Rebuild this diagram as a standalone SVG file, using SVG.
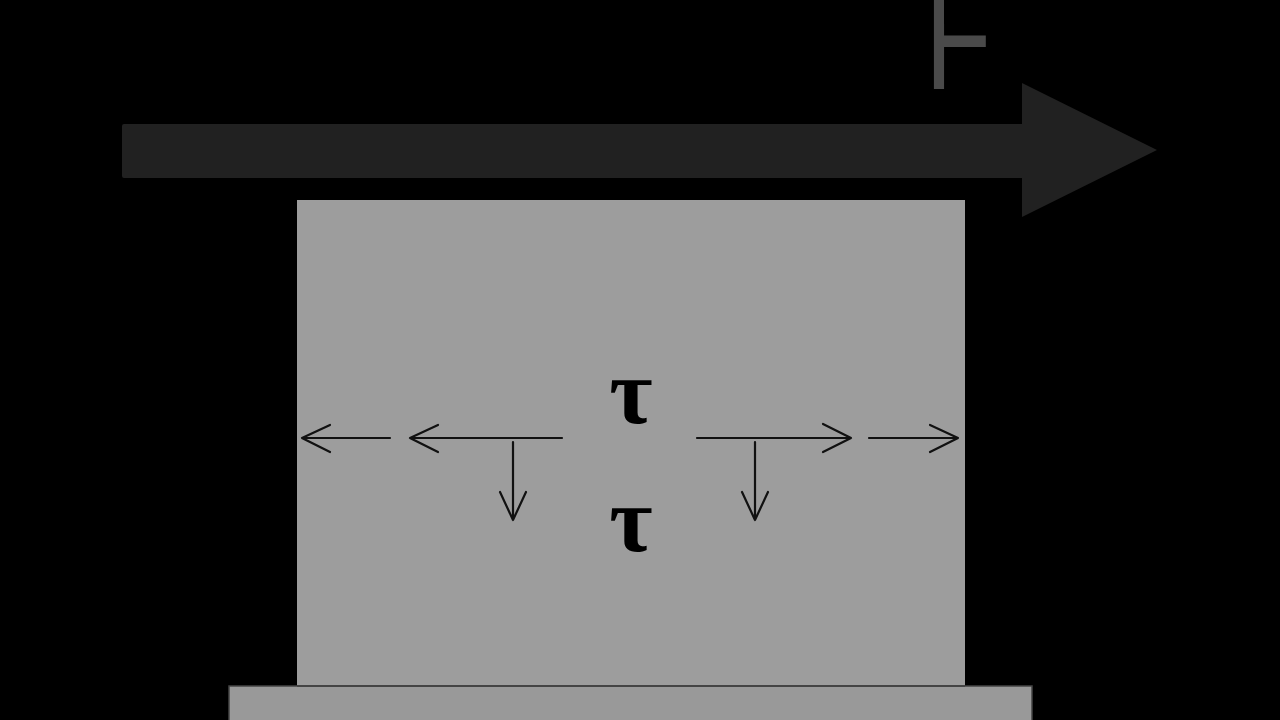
<svg xmlns="http://www.w3.org/2000/svg" width="1280" height="720" viewBox="0 0 1280 720">
<defs>
<style>
.ln{stroke:#111;stroke-width:2.2;fill:none;stroke-linecap:round;stroke-linejoin:round}
.tau{font-family:"Liberation Serif",serif;font-weight:bold;font-size:94px;fill:#000;text-anchor:middle}
</style>
<clipPath id="fclip">
<path d="M900,-10 H944 V24 H1010 V100 H900 Z"/>
</clipPath>
</defs>
<rect x="0" y="0" width="1280" height="720" fill="#000"/>
<g id="force-label" clip-path="url(#fclip)">
<text transform="translate(925,89) scale(0.85,1.18)" font-family="Liberation Sans, sans-serif" font-size="128" fill="#4a4a4a">F</text>
</g>
<g id="force-arrow">
<path d="M124,124 H1022 V83 L1157,150 L1022,217 V178 H124 Q122,178 122,176 V126 Q122,124 124,124 Z" fill="#212121"/>
</g>
<g id="base">
<rect x="229" y="686" width="803" height="40" fill="#999999" stroke="#444" stroke-width="1.5"/>
</g>
<g id="block">
<rect x="297" y="200" width="668" height="486" fill="#9d9d9d"/>
<line x1="297" y1="686" x2="965" y2="686" stroke="#444" stroke-width="2"/>
</g>
<g id="labels">
<text class="tau" x="631" y="423">τ</text>
<text class="tau" x="631" y="551">τ</text>
</g>
<g id="connectors">
<path class="ln" d="M390,438 H302 M330,425 L302,438 L330,452"/>
<path class="ln" d="M562,438 H410 M438,425 L410,438 L438,452"/>
<path class="ln" d="M513,442 V520 M500,492 L513,520 L526,492"/>
<path class="ln" d="M697,438 H851 M823,424 L851,438 L823,452"/>
<path class="ln" d="M755,442 V520 M742,492 L755,520 L768,492"/>
<path class="ln" d="M869,438 H958 M930,425 L958,438 L930,452"/>
</g>
</svg>
